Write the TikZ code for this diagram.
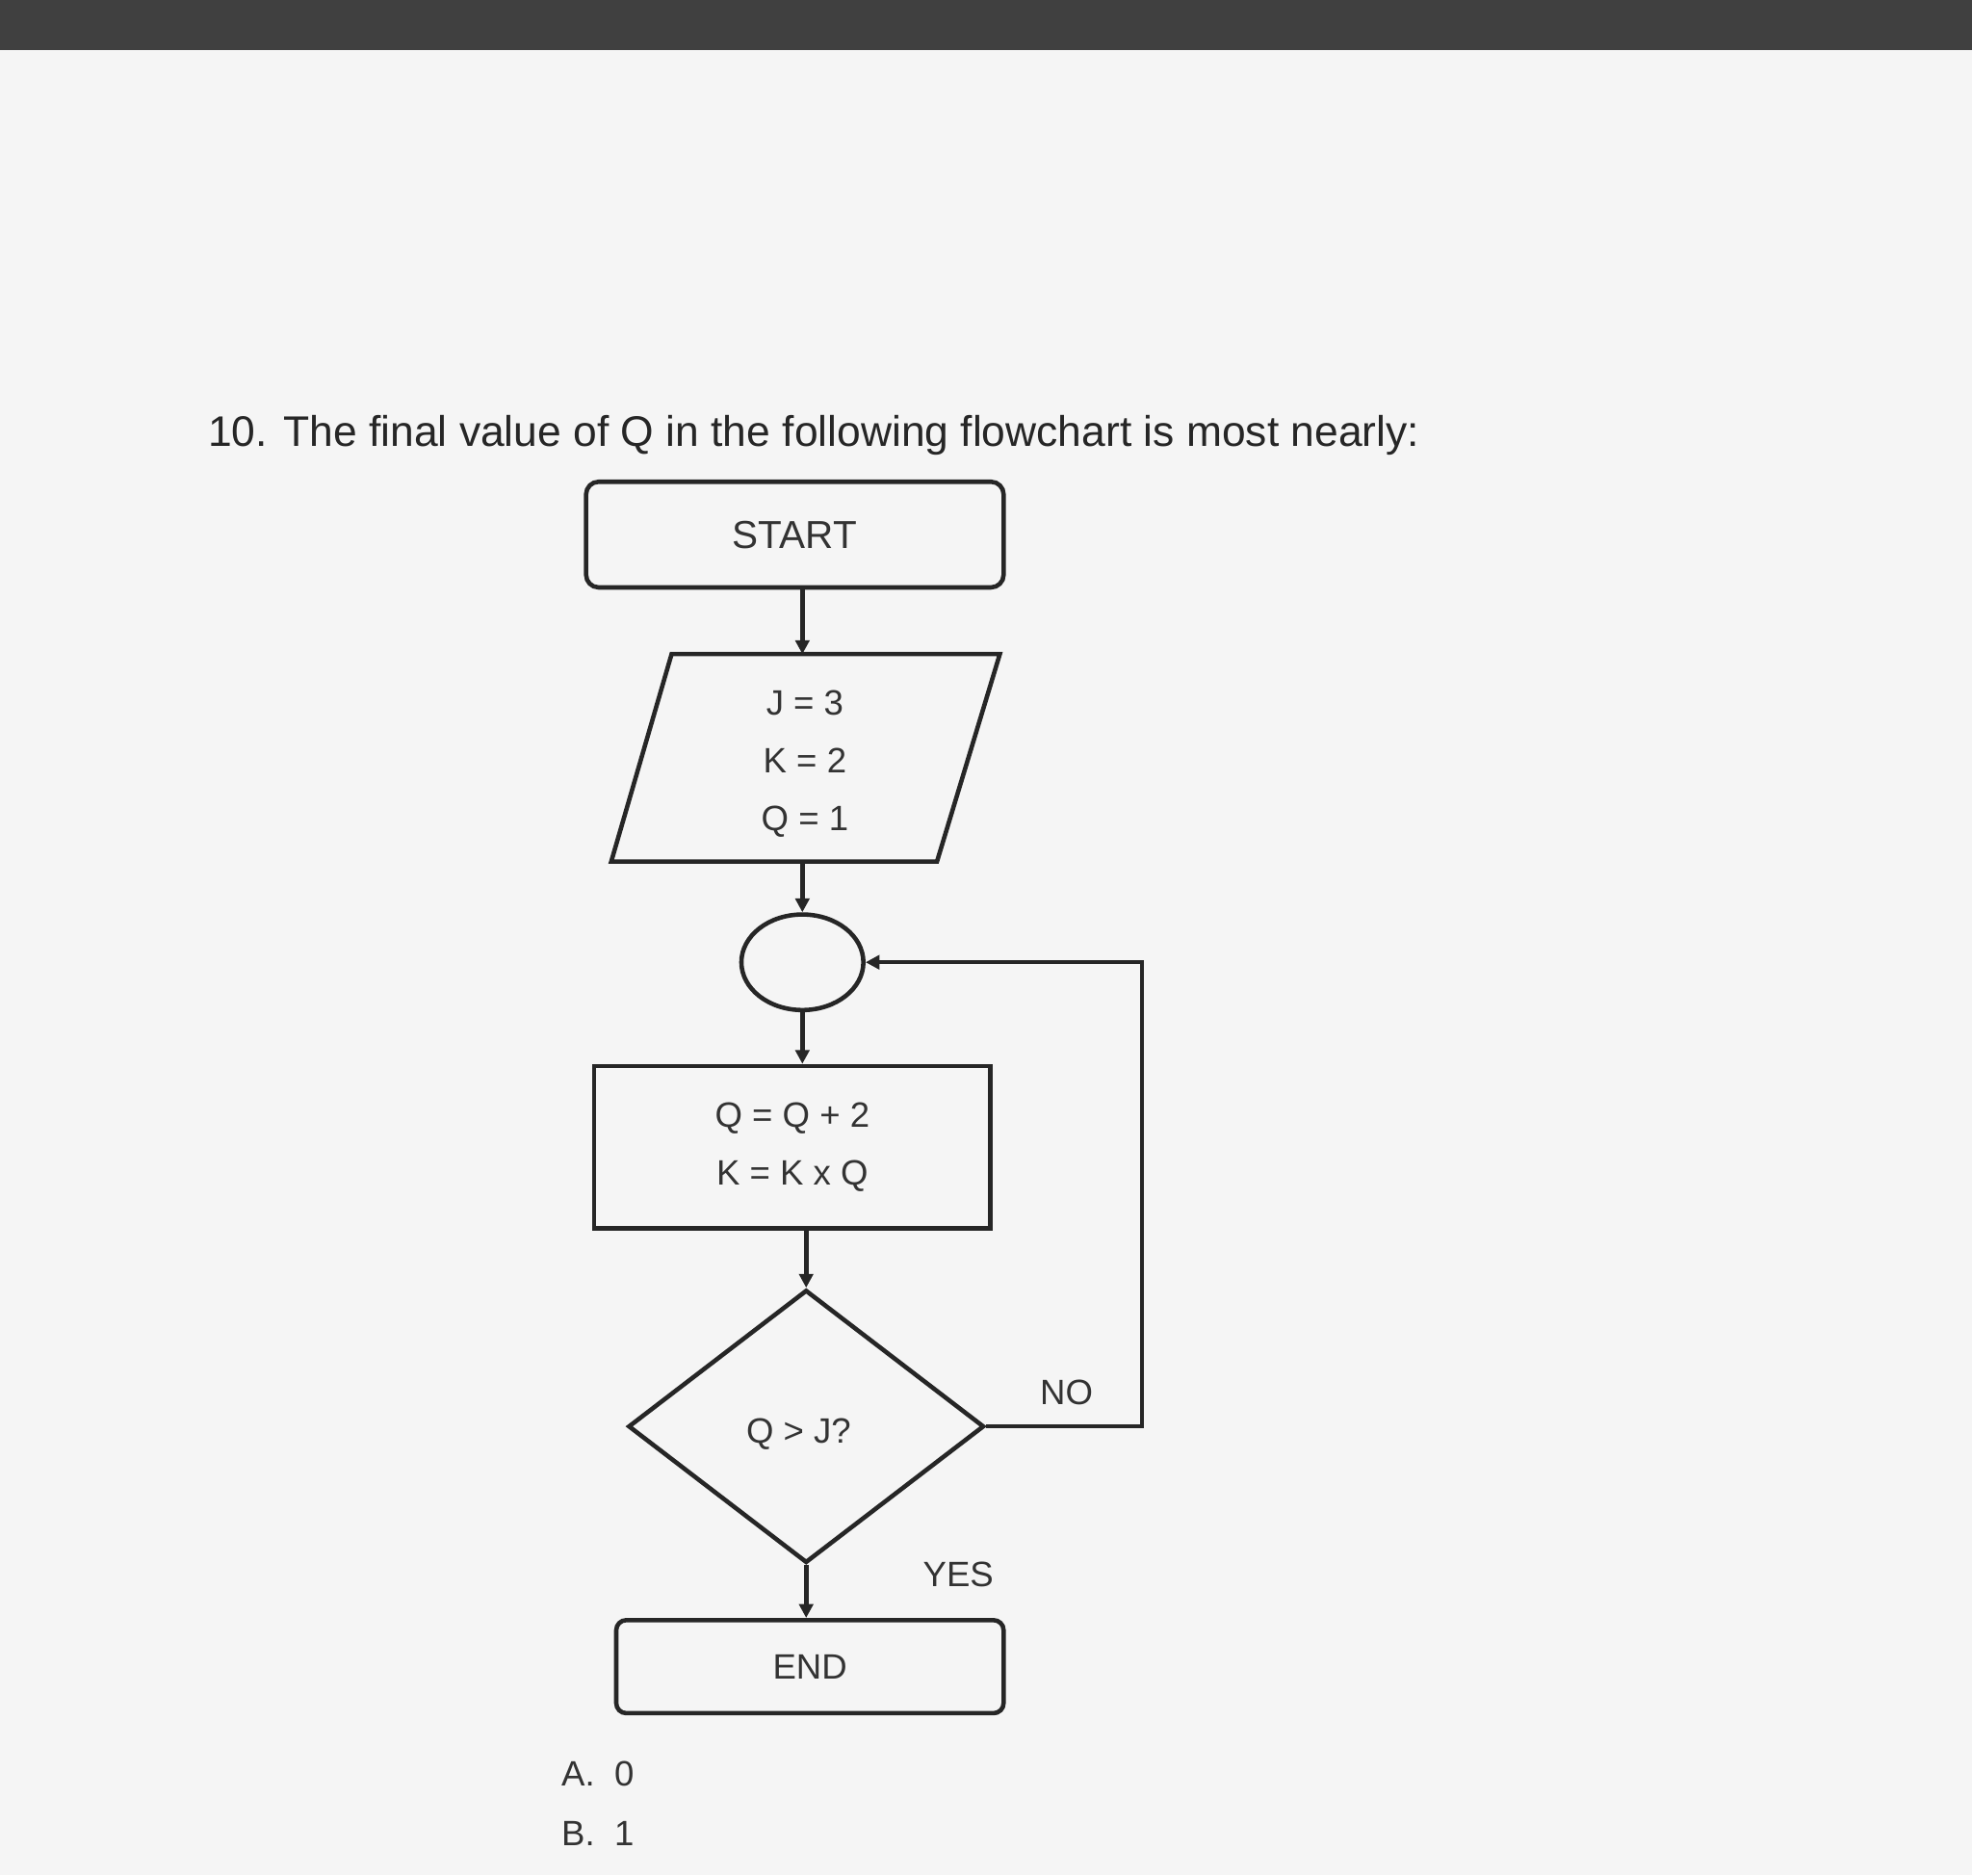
\documentclass[tikz,border=0pt]{standalone}
\usepackage{fontspec}
\setmainfont{Liberation Sans}
\usetikzlibrary{shapes.geometric,arrows.meta}
\begin{document}
\begin{tikzpicture}[x=1pt,y=-1pt,
  box/.style={draw=black!85,line width=3.5pt,inner sep=0pt},
  txt/.style={font=\fontsize{28}{34}\selectfont,text=black!80,align=center},
  arr/.style={draw=black!85,line width=3.5pt,-{Triangle[length=11pt,width=11pt]}}]
\useasboundingbox (0,0) rectangle (1568,1491);
\fill[gray!8] (0,0) rectangle (1568,1491);
\fill[black!75] (0,0) rectangle (1568,40);
\node[anchor=base west,font=\fontsize{34}{40}\selectfont,text=black!85] (title) at (162,355) {10. The final value of Q in the following flowchart is most nearly:};
\node[box,rounded corners=10pt,minimum width=332pt,minimum height=84pt,txt,font=\fontsize{31}{36}\selectfont] (start) at (632,425) {START};
\draw[box,line join=miter] (534,520) -- (795,520) -- (745,685) -- (486,685) -- cycle;
\coordinate (ptop) at (638,520);
\coordinate (pbot) at (638,685);
\node[txt] (pt) at (640,607) {J = 3\\[12pt]K = 2\\[12pt]Q = 1};
\node[box,ellipse,minimum width=97pt,minimum height=76pt] (c) at (638,765) {};
\node[box,minimum width=315pt,minimum height=129pt,txt] (r) at (630,912) {Q = Q + 2\\[12pt]K = K x Q};
\node[box,diamond,minimum width=283pt,minimum height=217pt,aspect=1.3] (d) at (641,1134) {};
\node[txt] (dt) at (635,1140) {Q > J?};
\node[box,rounded corners=8pt,minimum width=308pt,minimum height=74pt,txt] (e) at (644,1325) {END};
\draw[arr] (start.south -| ptop) -- (ptop);
\draw[arr] (pbot) -- (c.north);
\draw[arr] (c.south) -- (c.south |- r.north);
\draw[arr] (r.south -| d.north) -- (d.north);
\draw[arr] (d.south) -- (d.south |- e.north);
\draw[arr] (d.east) -- (d.east -| 908,0) -- (908,765) -- (c.east);
\node[txt] (no) at (848,1107) {NO};
\node[txt] (yes) at (762,1252) {YES};
\node[txt,anchor=west] (a) at (443,1410) {A.\ \ 0};
\node[txt,anchor=west] (b) at (443,1458) {B.\ \ 1};
\end{tikzpicture}
\end{document}
